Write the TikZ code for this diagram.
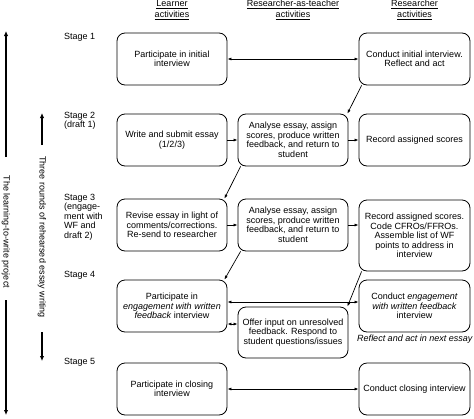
\documentclass[tikz,border=0pt]{standalone}
\usepackage{fontspec}
\setmainfont{Liberation Sans}
\usetikzlibrary{arrows.meta}
\begin{document}
\begin{tikzpicture}[x=1pt,y=-1pt,
  every node/.style={font=\fontsize{9}{9.5}\selectfont, inner sep=0pt},
  box/.style={draw, line width=0.8pt, rounded corners=8pt, minimum width=110pt, minimum height=52pt, align=center},
  hdr/.style={align=center},
  stagelbl/.style={anchor=north west, align=left},
  conn/.style={line width=0.7pt, -{Latex[length=4pt,width=3pt]}},
  dconn/.style={line width=0.7pt, {Latex[length=4pt,width=3pt]}-{Latex[length=4pt,width=3pt]}},
  bigarrow/.style={line width=1.4pt, -{Latex[length=5pt,width=4.5pt]}},
  sidetxt/.style={rotate=-90}
]
\useasboundingbox (0,0) rectangle (474,418);

% headers
\node[hdr] (h1) at (172,10) {\underline{Learner}\\[1pt]\underline{activities}};
\node[hdr] (h2) at (293,10) {\underline{Researcher-as-teacher}\\[1pt]\underline{activities}};
\node[hdr] (h3) at (414.5,10) {\underline{Researcher}\\[1pt]\underline{activities}};

% stage labels
\node[stagelbl] (s1) at (64,33) {Stage 1};
\node[stagelbl] (s2) at (64,112) {Stage 2\\(draft 1)};
\node[stagelbl] (s3) at (64,194) {Stage 3\\(engage-\\ment with\\WF and\\draft 2)};
\node[stagelbl] (s4) at (64,271) {Stage 4};
\node[stagelbl] (s5) at (64,358) {Stage 5};

% boxes
\node[box] (L1) at (172,59) {Participate in initial\\interview};
\node[box, minimum width=111pt] (R1) at (414.5,59) {Conduct initial interview.\\Reflect and act};

\node[box] (L2) at (172,140) {Write and submit essay\\(1/2/3)};
\node[box] (M2) at (293,140) {Analyse essay, assign\\scores, produce written\\feedback, and return to\\student};
\node[box, minimum width=111pt] (R2) at (414.5,140) {Record assigned scores};

\node[box] (L3) at (172,225) {Revise essay in light of\\comments/corrections.\\Re-send to researcher};
\node[box] (M3) at (293,225) {Analyse essay, assign\\scores, produce written\\feedback, and return to\\student};
\node[box, minimum width=111pt, minimum height=71pt] (R3) at (414.5,235.5) {Record assigned scores.\\Code CFROs/FFROs.\\Assemble list of WF\\points to address in\\interview};

\node[box] (L4) at (172,306) {Participate in\\\textit{engagement with written}\\\textit{feedback} interview};
\node[box, minimum width=111pt] (R4) at (414.5,306) {Conduct \textit{engagement}\\\textit{with written feedback}\\interview};
\node[box, minimum height=51pt] (M4) at (293,332.5) {Offer input on unresolved\\feedback. Respond to\\student questions/issues};
\node (refl) at (415,339) {\textit{Reflect and act in next essay}};

\node[box] (L5) at (172,389) {Participate in closing\\interview};
\node[box, minimum width=111pt] (R5) at (414.5,389) {Conduct closing interview};

% connectors
\draw[dconn] (L1) -- (R1);
\draw[conn] ([xshift=3pt]R1.south west) -- ([xshift=-1pt]M2.north east);
\draw[conn] (L2) -- (M2);
\draw[conn] (M2) -- (R2);
\draw[conn] ([xshift=3pt]M2.south west) -- ([xshift=-3pt]L3.north east);
\draw[conn] (L3) -- (M3);
\draw[conn] (M3) -- (R3.west |- M3);
\draw[conn] ([xshift=3pt]M3.south west) -- ([xshift=-3pt]L4.north east);
\draw[conn] ([xshift=3pt]R3.south west) -- ([xshift=-1pt]M4.north east);
\draw[dconn] (L4.east |- 0,302) -- (R4.west |- 0,302);
\draw[dconn] (L4.east |- 0,324) -- (M4.west |- 0,324);
\draw[dconn] (L5) -- (R5);

% side arrows
\node[sidetxt] (proj) at (6,232) {The learning-to-write project};
\coordinate (p1) at (6,157);
\coordinate (p1t) at (6,31);
\coordinate (p2) at (6,300);
\coordinate (p2b) at (6,415);
\draw[bigarrow] (p1) -- (p1t);
\draw[bigarrow] (p2) -- (p2b);

\node[sidetxt] (rounds) at (42,237) {Three rounds of rehearsed essay writing};
\coordinate (r1) at (42,145);
\coordinate (r1t) at (42,113);
\coordinate (r2) at (42,332);
\coordinate (r2b) at (42,361);
\draw[bigarrow] (r1) -- (r1t);
\draw[bigarrow] (r2) -- (r2b);
\end{tikzpicture}
\end{document}
